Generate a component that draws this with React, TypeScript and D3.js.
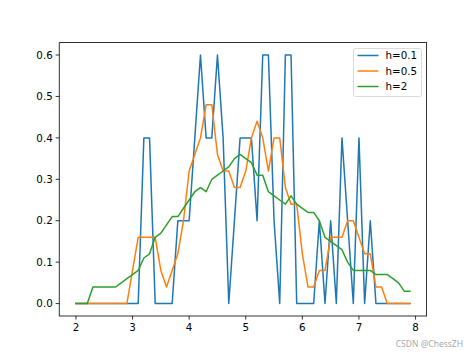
import React from "react";
import * as d3 from "d3";

const xs = [
  2.0, 2.1, 2.2, 2.3, 2.4, 2.5, 2.6, 2.7, 2.8, 2.9,
  3.0, 3.1, 3.2, 3.3, 3.4, 3.5, 3.6, 3.7, 3.8, 3.9,
  4.0, 4.1, 4.2, 4.3, 4.4, 4.5, 4.6, 4.7, 4.8, 4.9,
  5.0, 5.1, 5.2, 5.3, 5.4, 5.5, 5.6, 5.7, 5.8, 5.9,
  6.0, 6.1, 6.2, 6.3, 6.4, 6.5, 6.6, 6.7, 6.8, 6.9,
  7.0, 7.1, 7.2, 7.3, 7.4, 7.5, 7.6, 7.7, 7.8, 7.9,
];

const h01 = [
  0, 0, 0, 0, 0, 0, 0, 0, 0, 0,
  0, 0, 0.4, 0.4, 0, 0, 0, 0, 0.2, 0.2,
  0.2, 0.4, 0.6, 0.4, 0.4, 0.6, 0.4, 0, 0.2, 0.4,
  0.4, 0.4, 0.2, 0.6, 0.6, 0.2, 0, 0.6, 0.6, 0,
  0, 0, 0, 0.2, 0, 0.2, 0, 0.4, 0.2, 0,
  0.4, 0, 0.2, 0, 0, 0, 0, 0, 0, 0,
];

const h05 = [
  0, 0, 0, 0, 0, 0, 0, 0, 0, 0,
  0.08, 0.16, 0.16, 0.16, 0.16, 0.08, 0.04, 0.08, 0.12, 0.2,
  0.32, 0.36, 0.4, 0.48, 0.48, 0.36, 0.32, 0.32, 0.28, 0.28,
  0.32, 0.4, 0.44, 0.4, 0.32, 0.4, 0.4, 0.28, 0.24, 0.24,
  0.12, 0.04, 0.04, 0.08, 0.08, 0.16, 0.16, 0.16, 0.2, 0.2,
  0.16, 0.12, 0.12, 0.04, 0.04, 0, 0, 0, 0, 0,
];

const h2 = [
  0, 0, 0, 0.04, 0.04, 0.04, 0.04, 0.04, 0.05, 0.06,
  0.07, 0.08, 0.11, 0.12, 0.16, 0.17, 0.19, 0.21, 0.21, 0.23,
  0.25, 0.27, 0.28, 0.27, 0.3, 0.31, 0.32, 0.33, 0.35, 0.36,
  0.35, 0.34, 0.31, 0.31, 0.27, 0.26, 0.25, 0.24, 0.26, 0.24,
  0.23, 0.22, 0.22, 0.2, 0.16, 0.15, 0.14, 0.13, 0.1, 0.08,
  0.08, 0.08, 0.08, 0.07, 0.07, 0.07, 0.06, 0.05, 0.03, 0.03,
];

const seriesNames = ["h=0.1", "h=0.5", "h=2"];
const seriesColors = ["#1f77b4", "#ff7f0e", "#2ca02c"];
const xTicks = [2, 3, 4, 5, 6, 7, 8];
const yTicks = [0, 0.1, 0.2, 0.3, 0.4, 0.5, 0.6];

const W = 474;
const H = 355;
const L = 59.25;
const R = 426.6;
const T = 42.6;
const B = 316;

export default function App() {
  const x = d3.scaleLinear().domain([1.705, 8.195]).range([L, R]);
  const y = d3.scaleLinear().domain([-0.03, 0.63]).range([B, T]);
  const series = [h01, h05, h2];
  const line = d3
    .line<number>()
    .x((_, i) => x(xs[i]))
    .y((d) => y(d));
  const font = "'DejaVu Sans', sans-serif";
  const fs = 10.3;

  const lgX = 353.5;
  const lgY = 48.5;
  const lgW = 68;
  const lgH = 48;
  const rowY = [55.5, 71, 86.5];

  return (
    <svg
      width={W}
      height={H}
      style={{ position: "absolute", left: 0, top: 0, background: "#fff" }}
      fontFamily={font}
    >
      <rect x={0} y={0} width={W} height={H} fill="#fff" />
      {series.map((s, i) => (
        <path
          key={i}
          d={line(s) || ""}
          fill="none"
          stroke={seriesColors[i]}
          strokeWidth={1.5}
          strokeLinejoin="round"
          strokeLinecap="square"
        />
      ))}
      <rect
        x={L}
        y={T}
        width={R - L}
        height={B - T}
        fill="none"
        stroke="#000"
        strokeWidth={0.8}
      />
      {xTicks.map((t) => (
        <g key={t}>
          <line x1={x(t)} x2={x(t)} y1={B} y2={B + 3.6} stroke="#000" strokeWidth={0.8} />
          <text x={x(t)} y={B + 14.5} textAnchor="middle" fontSize={fs} fill="#000">
            {t}
          </text>
        </g>
      ))}
      {yTicks.map((t) => (
        <g key={t}>
          <line x1={L - 3.6} x2={L} y1={y(t)} y2={y(t)} stroke="#000" strokeWidth={0.8} />
          <text
            x={L - 6.5}
            y={y(t)}
            dy="0.36em"
            textAnchor="end"
            fontSize={fs}
            fill="#000"
          >
            {t.toFixed(1)}
          </text>
        </g>
      ))}
      <rect
        x={lgX}
        y={lgY}
        width={lgW}
        height={lgH}
        rx={2}
        fill="#fff"
        fillOpacity={0.8}
        stroke="#d0d0d0"
        strokeWidth={0.8}
      />
      {seriesNames.map((n, i) => (
        <g key={n}>
          <line
            x1={lgX + 4}
            x2={lgX + 25}
            y1={rowY[i]}
            y2={rowY[i]}
            stroke={seriesColors[i]}
            strokeWidth={1.5}
          />
          <text x={lgX + 32} y={rowY[i]} dy="0.36em" fontSize={fs} fill="#000">
            {n}
          </text>
        </g>
      ))}
      <text x={463} y={347} textAnchor="end" fontSize={8.5} fill="#aaaaaa" fontFamily="'Noto Sans', sans-serif">
        CSDN @ChessZH
      </text>
    </svg>
  );
}
